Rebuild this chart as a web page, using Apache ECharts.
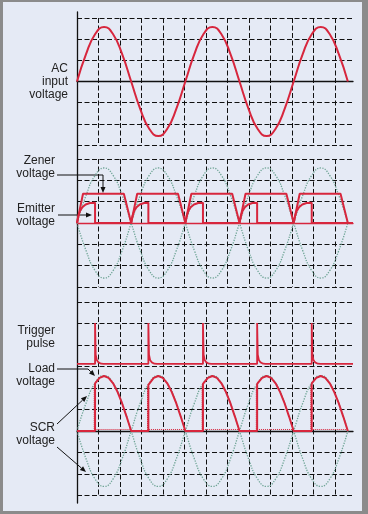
<!DOCTYPE html>
<html>
<head>
<meta charset="utf-8">
<script src="https://cdn.jsdelivr.net/npm/echarts@6/dist/echarts.min.js"></script>
<style>
  html, body { margin: 0; padding: 0; background: #8b8b8b; }
  #chart { position: absolute; left: 3px; top: 2px; width: 359px; height: 509px; background: #e5eaf5; }
</style>
</head>
<body>
<div id="chart"></div>
<script>
// x in grid divisions, y in grid divisions (one dashed square = 1)
const supplyWave = [[0,0],[0.42,1.29],[0.84,2.23],[1.26,2.58],[1.68,2.23],[2.1,1.29],[2.52,0],
  [2.94,-1.29],[3.36,-2.23],[3.78,-2.58],[4.2,-2.23],[4.62,-1.29],[5.04,0],
  [5.46,1.29],[5.88,2.23],[6.3,2.58],[6.72,2.23],[7.14,1.29],[7.56,0],
  [7.98,-1.29],[8.4,-2.23],[8.82,-2.58],[9.24,-2.23],[9.66,-1.29],[10.08,0],
  [10.5,1.29],[10.92,2.23],[11.34,2.58],[11.76,2.23],[12.18,1.29],[12.6,0]];

const supplyMirror = [[0,0],[0.42,-1.29],[0.84,-2.23],[1.26,-2.58],[1.68,-2.23],[2.1,-1.29],[2.52,0],
  [2.94,1.29],[3.36,2.23],[3.78,2.58],[4.2,2.23],[4.62,1.29],[5.04,0],
  [5.46,-1.29],[5.88,-2.23],[6.3,-2.58],[6.72,-2.23],[7.14,-1.29],[7.56,0],
  [7.98,1.29],[8.4,2.23],[8.82,2.58],[9.24,2.23],[9.66,1.29],[10.08,0],
  [10.5,-1.29],[10.92,-2.23],[11.34,-2.58],[11.76,-2.23],[12.18,-1.29],[12.6,0]];

const zenerWave = [[0,0],[0.28,1.37],[2.18,1.37],[2.52,0],[2.8,1.37],[4.7,1.37],[5.04,0],
  [5.32,1.37],[7.22,1.37],[7.56,0],[7.84,1.37],[9.74,1.37],[10.08,0],
  [10.36,1.37],[12.26,1.37],[12.6,0]];

const emitterWave = [[0,0],[0.06,0.32],[0.14,0.56],[0.25,0.74],[0.4,0.87],[0.6,0.94],[0.84,0.95],[0.84,0],
  [2.52,0],[2.58,0.32],[2.66,0.56],[2.77,0.74],[2.92,0.87],[3.12,0.94],[3.32,0.95],[3.32,0],
  [5.04,0],[5.1,0.32],[5.18,0.56],[5.29,0.74],[5.44,0.87],[5.64,0.94],[5.86,0.95],[5.86,0],
  [7.56,0],[7.62,0.32],[7.7,0.56],[7.81,0.74],[7.96,0.87],[8.16,0.94],[8.38,0.95],[8.38,0],
  [10.08,0],[10.14,0.32],[10.22,0.56],[10.33,0.74],[10.48,0.87],[10.68,0.94],[10.92,0.95],[10.92,0],
  [12.84,0]];

const triggerPulse = [[0,3.12],
  [0.84,3.12],[0.84,5.02],[0.87,3.55],[0.92,3.3],[1.0,3.19],[1.12,3.13],[1.24,3.12],
  [3.32,3.12],[3.32,5.02],[3.35,3.55],[3.4,3.3],[3.48,3.19],[3.6,3.13],[3.72,3.12],
  [5.86,3.12],[5.86,5.02],[5.89,3.55],[5.94,3.3],[6.02,3.19],[6.14,3.13],[6.26,3.12],
  [8.38,3.12],[8.38,5.02],[8.41,3.55],[8.46,3.3],[8.54,3.19],[8.66,3.13],[8.78,3.12],
  [10.92,3.12],[10.92,5.02],[10.95,3.55],[11.0,3.3],[11.08,3.19],[11.2,3.13],[11.32,3.12],
  [12.84,3.12]];

const loadWave = [[0,0],
  [0.84,0],[0.84,2.22],[1.05,2.47],[1.26,2.56],[1.47,2.47],[1.68,2.22],[1.89,1.81],[2.1,1.28],[2.31,0.66],[2.52,0],
  [3.32,0],[3.32,2.15],[3.57,2.47],[3.78,2.56],[3.99,2.47],[4.2,2.22],[4.41,1.81],[4.62,1.28],[4.83,0.66],[5.04,0],
  [5.86,0],[5.86,2.19],[6.09,2.47],[6.3,2.56],[6.51,2.47],[6.72,2.22],[6.93,1.81],[7.14,1.28],[7.35,0.66],[7.56,0],
  [8.38,0],[8.38,2.19],[8.61,2.47],[8.82,2.56],[9.03,2.47],[9.24,2.22],[9.45,1.81],[9.66,1.28],[9.87,0.66],[10.08,0],
  [10.92,0],[10.92,2.22],[11.13,2.47],[11.34,2.56],[11.55,2.47],[11.76,2.22],[11.97,1.81],[12.18,1.28],[12.39,0.66],[12.6,0]];

const scrOnState = [[0.8,2.1],[0.8,0.07],[2.52,0.07],[2.52,'-'],
  [3.28,2.05],[3.28,0.07],[5.04,0.07],[5.04,'-'],
  [5.82,2.08],[5.82,0.07],[7.56,0.07],[7.56,'-'],
  [8.34,2.08],[8.34,0.07],[10.08,0.07],[10.08,'-'],
  [10.88,2.1],[10.88,0.07],[12.6,0.07]];

const RED = '#d7263d';
const GREEN = '#6fa596';
const INK = '#111';
const FONT = '12px "Liberation Sans", Arial, sans-serif';

const dash = { color: INK, width: 1, type: [5, 2.5] };
const dotted = { color: GREEN, width: 1.3, type: 'dotted' };

function xAxisFor(gridIndex, axisColor) {
  return {
    type: 'value', gridIndex, min: 0, max: 12.84, interval: 1,
    axisLine: { show: true, onZero: true, lineStyle: { color: axisColor, width: 1.3 } },
    axisTick: { show: false }, axisLabel: { show: false },
    splitLine: { show: true, showMinLine: false, showMaxLine: false, lineStyle: dash }
  };
}
function yAxisFor(gridIndex, min, max) {
  return {
    type: 'value', gridIndex, min, max, interval: 1,
    axisLine: { show: false }, axisTick: { show: false }, axisLabel: { show: false },
    splitLine: { show: true, lineStyle: dash }
  };
}

function wave(name, data, xi, color, width, extra) {
  return Object.assign({
    name, type: 'line', xAxisIndex: xi, yAxisIndex: xi, data,
    showSymbol: false, symbol: 'none', silent: true,
    lineStyle: { color, width }
  }, extra || {});
}

function leader(points) {
  const n = points.length;
  const tip = points[n - 1], prev = points[n - 2];
  const dx = tip[0] - prev[0], dy = tip[1] - prev[1];
  const len = Math.sqrt(dx * dx + dy * dy);
  const ux = dx / len, uy = dy / len;
  const bx = tip[0] - ux * 6, by = tip[1] - uy * 6;
  const head = [tip, [bx - uy * 2.5, by + ux * 2.5], [bx + uy * 2.5, by - ux * 2.5]];
  const line = points.slice(0, n - 1).concat([[bx, by]]);
  return [
    { type: 'polyline', silent: true, shape: { points: line }, style: { stroke: INK, lineWidth: 1, fill: null } },
    { type: 'polygon', silent: true, shape: { points: head }, style: { fill: INK } }
  ];
}

function label(text, x, y) {
  return {
    type: 'text', x, y, silent: true,
    style: { text, font: FONT, fill: '#222', align: 'right', verticalAlign: 'middle', lineHeight: 13 }
  };
}

const chart = echarts.init(document.getElementById('chart'));
chart.setOption({
  animation: false,
  grid: [
    { left: 74, top: 16, width: 276, height: 127 },
    { left: 74, top: 157, width: 276, height: 128 },
    { left: 74, top: 300, width: 276, height: 193.5 },
    { left: 74, top: 10, width: 276, height: 491 }
  ],
  xAxis: [
    xAxisFor(0, INK),
    xAxisFor(1, RED),
    xAxisFor(2, INK),
    { type: 'value', gridIndex: 3, min: 0, max: 1, show: false }
  ],
  yAxis: [
    yAxisFor(0, -3, 3),
    yAxisFor(1, -3, 3),
    yAxisFor(2, -3, 6),
    {
      type: 'value', gridIndex: 3, min: 0, max: 1,
      axisLine: { show: true, onZero: false, lineStyle: { color: INK, width: 1.3 } },
      axisTick: { show: false }, axisLabel: { show: false }, splitLine: { show: false }
    }
  ],
  series: [
    wave('AC input voltage', supplyWave, 0, RED, 2, { smooth: true }),
    wave('Supply', supplyWave, 1, GREEN, 1.3, { smooth: true, lineStyle: dotted }),
    wave('Supply (inverted)', supplyMirror, 1, GREEN, 1.3, { smooth: true, lineStyle: dotted }),
    wave('Zener voltage', zenerWave, 1, RED, 2),
    wave('Emitter voltage', emitterWave, 1, RED, 2),
    wave('Supply 2', supplyWave, 2, GREEN, 1.3, { smooth: true, lineStyle: dotted }),
    wave('Supply 2 (inverted)', supplyMirror, 2, GREEN, 1.3, { smooth: true, lineStyle: dotted }),
    wave('Trigger pulse', triggerPulse, 2, RED, 1.8),
    wave('SCR voltage', scrOnState, 2, RED, 1, { connectNulls: false, lineStyle: { color: RED, width: 1, type: 'dotted' } }),
    wave('Load voltage', loadWave, 2, RED, 2)
  ],
  graphic: [
    label('AC\ninput\nvoltage', 65, 80),
    label('Zener\nvoltage', 52, 165),
    label('Emitter\nvoltage', 52, 213.5),
    label('Trigger\npulse', 52, 335.5),
    label('Load\nvoltage', 52, 373),
    label('SCR\nvoltage', 52, 432.5)
  ].concat(
    leader([[54, 173], [100, 173], [100, 191]]),
    leader([[55, 213], [89, 213]]),
    leader([[54, 367], [85, 367], [92, 374]]),
    leader([[54, 422], [84, 394]]),
    leader([[54, 445], [83, 470]])
  )
});
</script>
</body>
</html>
